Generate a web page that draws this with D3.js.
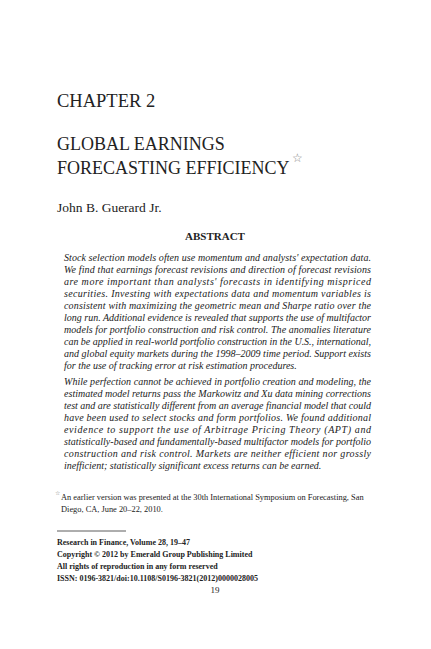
<!DOCTYPE html>
<html><head><meta charset="utf-8">
<script src="https://cdn.jsdelivr.net/npm/d3@7"></script>
<style>body{margin:0;background:#fff}svg{display:block}svg text{font-family:"Liberation Serif","DejaVu Serif",serif}</style>
</head><body>
<script>
// page text, kept as lines as they appear in the picture
const titleLines = ["GLOBAL EARNINGS", "FORECASTING EFFICIENCY"];
const para1 = [
 "Stock selection models often use momentum and analysts' expectation data.",
 "We find that earnings forecast revisions and direction of forecast revisions",
 "are more important than analysts' forecasts in identifying mispriced",
 "securities. Investing with expectations data and momentum variables is",
 "consistent with maximizing the geometric mean and Sharpe ratio over the",
 "long run. Additional evidence is revealed that supports the use of multifactor",
 "models for portfolio construction and risk control. The anomalies literature",
 "can be applied in real-world portfolio construction in the U.S., international,",
 "and global equity markets during the 1998\u20132009 time period. Support exists",
 "for the use of tracking error at risk estimation procedures."];
const para2 = [
 "While perfection cannot be achieved in portfolio creation and modeling, the",
 "estimated model returns pass the Markowitz and Xu data mining corrections",
 "test and are statistically different from an average financial model that could",
 "have been used to select stocks and form portfolios. We found additional",
 "evidence to support the use of Arbitrage Pricing Theory (APT) and",
 "statistically-based and fundamentally-based multifactor models for portfolio",
 "construction and risk control. Markets are neither efficient nor grossly",
 "inefficient; statistically significant excess returns can be earned."];
const footnote = [
 "An earlier version was presented at the 30th International Symposium on Forecasting, San",
 "Diego, CA, June 20\u201322, 2010."];
const imprint = [
 "Research in Finance, Volume 28, 19\u201347",
 "Copyright \u00a9 2012 by Emerald Group Publishing Limited",
 "All rights of reproduction in any form reserved",
 "ISSN: 0196-3821/doi:10.1108/S0196-3821(2012)0000028005"];

const W = 431, H = 649;
const svg = d3.select("body").append("svg").attr("width", W).attr("height", H).attr("fill", "#222");

function block(lines, x0, y0, step, opts) {
  const y = d3.scaleLinear().domain([0, 1]).range([y0, y0 + step]);
  return svg.append("g").selectAll("text").data(lines).join("text")
    .attr("x", x0).attr("y", (d, i) => y(i))
    .attr("font-size", opts.size).attr("font-style", opts.italic ? "italic" : null)
    .attr("font-weight", opts.bold ? "bold" : null)
    .each(function (d, i) {
      if (opts.justify && i < lines.length - 1)
        d3.select(this).attr("textLength", opts.justify).attr("lengthAdjust", "spacing");
    })
    .text(d => d);
}

svg.append("text").attr("x", 57).attr("y", 107).attr("font-size", 18.5).text("CHAPTER 2");
const tl = block(titleLines, 57, 150, 24, {size: 18});
const lastW = tl.nodes()[1].getComputedTextLength();
svg.append("text").attr("x", 57 + lastW + 2).attr("y", 162).attr("font-size", 12).attr("fill", "#888").text("\u2606");
svg.append("text").attr("x", 57).attr("y", 212).attr("font-size", 13.5).text("John B. Guerard Jr.");
svg.append("text").attr("x", 215).attr("y", 240).attr("text-anchor", "middle")
  .attr("font-size", 11).attr("font-weight", "bold").text("ABSTRACT");
block(para1, 64, 261, 12, {size: 10, italic: true, justify: 307});
block(para2, 64, 385, 12, {size: 10, italic: true, justify: 307});
svg.append("text").attr("x", 55).attr("y", 495).attr("font-size", 6).attr("fill", "#888").text("\u2606");
block(footnote, 61, 500, 12, {size: 8.4});
svg.append("line").attr("x1", 57).attr("x2", 126).attr("y1", 531).attr("y2", 531)
  .attr("stroke", "#333").attr("stroke-width", 0.8);
block(imprint, 57, 545, 12, {size: 8, bold: true});
svg.append("text").attr("x", 215).attr("y", 593).attr("text-anchor", "middle")
  .attr("font-size", 9).text("19");
</script>
</body></html>
